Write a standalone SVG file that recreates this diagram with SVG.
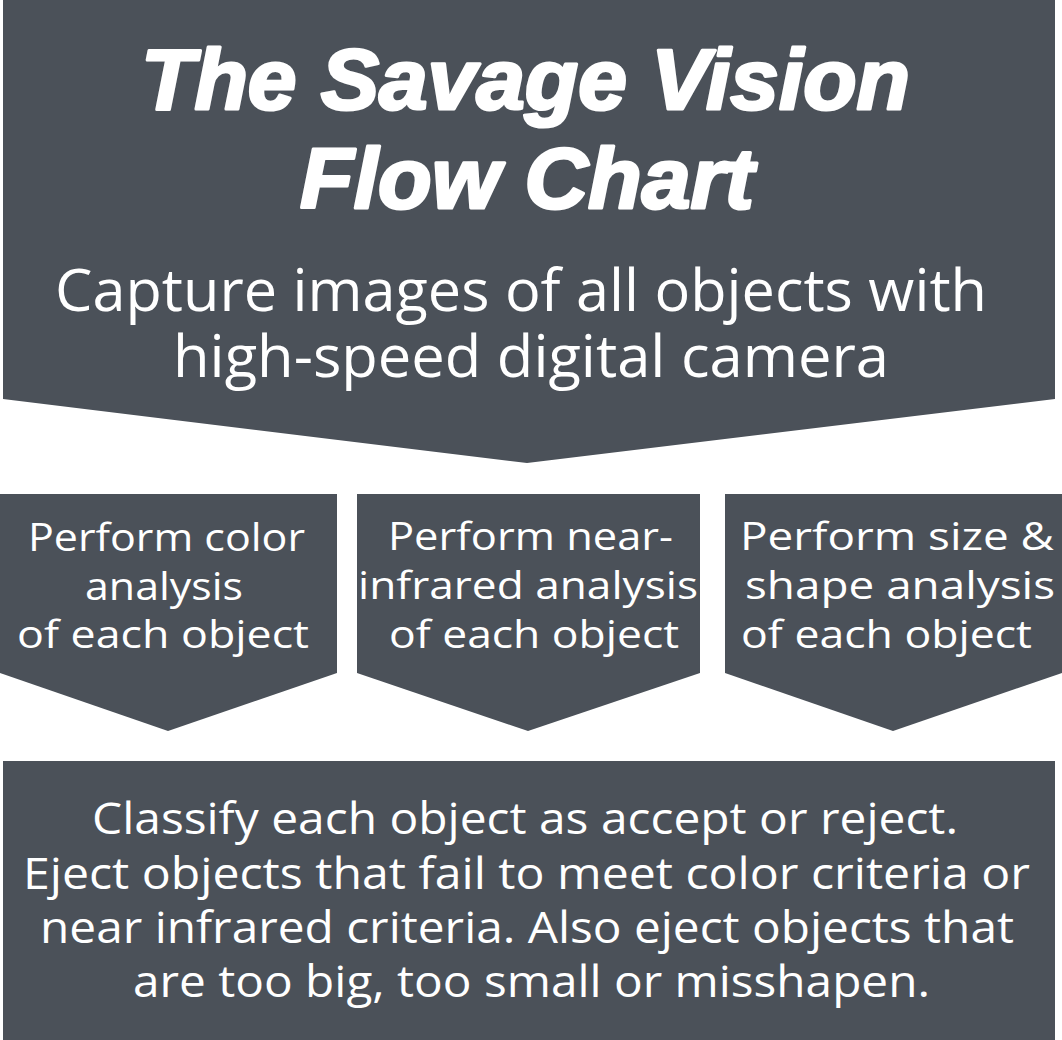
<svg xmlns="http://www.w3.org/2000/svg" width="1062" height="1040" viewBox="0 0 1062 1040">
<style>
.shape{fill:#4b5159}
.t{font-family:"Open Sans","Noto Sans","Liberation Sans",sans-serif;fill:#ffffff}
.title{font-family:"Liberation Sans",Arial,sans-serif;font-weight:bold;font-style:italic;font-size:86px;fill:#ffffff;stroke:#ffffff;stroke-width:3px;stroke-linejoin:round}
.big{font-size:58px}
.mid{font-size:38px}
.low{font-size:44px}
</style>
<rect width="1062" height="1040" fill="#ffffff"/>
<g id="connectors"></g>
<g id="node-capture">
<polygon class="shape" points="3,0 1055,0 1055,399 527,463 3,399"/>
<text class="title" x="141" y="109" textLength="769" lengthAdjust="spacingAndGlyphs">The Savage Vision</text>
<text class="title" x="300" y="208" textLength="454" lengthAdjust="spacingAndGlyphs">Flow Chart</text>
<text class="t big" x="55" y="311" textLength="932" lengthAdjust="spacingAndGlyphs">Capture images of all objects with</text>
<text class="t big" x="173" y="377" textLength="716" lengthAdjust="spacingAndGlyphs">high-speed digital camera</text>
</g>
<g id="node-color">
<polygon class="shape" points="0,494 337,494 337,673 168,731 0,673"/>
<text class="t mid" x="28" y="551" textLength="277" lengthAdjust="spacingAndGlyphs">Perform color</text>
<text class="t mid" x="85" y="600" textLength="158" lengthAdjust="spacingAndGlyphs">analysis</text>
<text class="t mid" x="17" y="648" textLength="292" lengthAdjust="spacingAndGlyphs">of each object</text>
</g>
<g id="node-nir">
<polygon class="shape" points="357,494 700,494 700,673 528,731 357,673"/>
<text class="t mid" x="388" y="550" textLength="285" lengthAdjust="spacingAndGlyphs">Perform near-</text>
<text class="t mid" x="358" y="599" textLength="340" lengthAdjust="spacingAndGlyphs">infrared analysis</text>
<text class="t mid" x="389" y="648" textLength="290" lengthAdjust="spacingAndGlyphs">of each object</text>
</g>
<g id="node-shape">
<polygon class="shape" points="725,494 1062,494 1062,673 893,731 725,673"/>
<text class="t mid" x="740" y="550" textLength="314" lengthAdjust="spacingAndGlyphs">Perform size &amp;</text>
<text class="t mid" x="745" y="599" textLength="310" lengthAdjust="spacingAndGlyphs">shape analysis</text>
<text class="t mid" x="741" y="648" textLength="291" lengthAdjust="spacingAndGlyphs">of each object</text>
</g>
<g id="node-classify">
<rect class="shape" x="3" y="761" width="1052" height="279"/>
<text class="t low" x="92" y="834" textLength="866" lengthAdjust="spacingAndGlyphs">Classify each object as accept or reject.</text>
<text class="t low" x="23" y="889" textLength="1007" lengthAdjust="spacingAndGlyphs">Eject objects that fail to meet color criteria or</text>
<text class="t low" x="40" y="943" textLength="974" lengthAdjust="spacingAndGlyphs">near infrared criteria. Also eject objects that</text>
<text class="t low" x="133" y="997" textLength="797" lengthAdjust="spacingAndGlyphs">are too big, too small or misshapen.</text>
</g>
</svg>
